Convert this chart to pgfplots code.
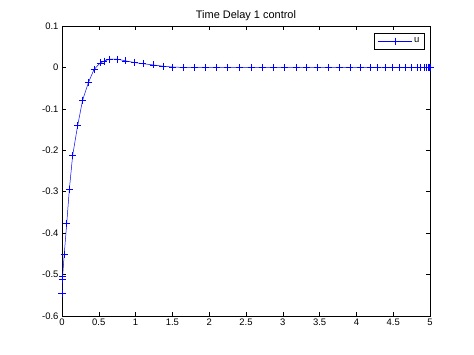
\documentclass[border=0pt]{standalone}
\usepackage{pgfplots}
\pgfplotsset{compat=1.18}
\usepackage{fontspec}
\setmainfont{Liberation Sans}
\definecolor{mblue}{rgb}{0,0,1}
\begin{document}
\begin{tikzpicture}
\begin{axis}[
  scale only axis,
  width=368bp, height=290bp,
  xmin=0, xmax=5, ymin=-0.6, ymax=0.1,
  xtick={0,0.5,...,5},
  ytick={-0.6,-0.5,...,0.1},
  tick align=inside,
  major tick length=4bp,
  tick style={black, line width=0.5pt},
  axis line style={black, line width=0.5pt},
  /pgf/number format/assume math mode=true,
  /pgf/number format/fixed,
  /pgf/number format/precision=1,
  xticklabel style={font=\fontsize{9.5}{11}\selectfont, yshift=1bp},
  yticklabel style={font=\fontsize{9.5}{11}\selectfont},
  title={Time Delay 1 control},
  title style={font=\fontsize{11}{13}\selectfont, yshift=-4bp},
  legend style={at={(0.985,0.975)}, anchor=north east, draw=black, font=\fontsize{9.5}{11}\selectfont, inner xsep=3bp, inner ysep=2.5bp, legend cell align=left},
  legend image code/.code={\draw[#1, draw=mblue] (0bp,0bp) -- (34bp,0bp); \draw[#1, draw=mblue, mark repeat=2, mark phase=2] plot coordinates {(0bp,0bp) (17bp,0bp) (34bp,0bp)};},
]
\addplot[draw=mblue, color=mblue, line width=0.5pt, mark=+, mark size=3.5bp, mark options={draw=mblue, solid, line width=0.5pt}] coordinates {
(0,-0.546) (0.003,-0.512) (0.008,-0.505) (0.03,-0.452) (0.064,-0.377) (0.10,-0.294)
(0.145,-0.212) (0.213,-0.140) (0.28,-0.079) (0.36,-0.036) (0.435,-0.005) (0.52,0.011)
(0.57,0.015) (0.64,0.020) (0.75,0.020) (0.86,0.016) (0.98,0.012) (1.10,0.009)
(1.24,0.006) (1.37,0.003) (1.50,0.001) (1.65,0) (1.80,0) (1.95,0) (2.10,0) (2.25,0)
(2.41,0) (2.57,0) (2.72,0) (2.87,0) (3.02,0) (3.18,0) (3.32,0) (3.47,0) (3.62,0)
(3.77,0) (3.91,0) (4.05,0) (4.19,0) (4.28,0) (4.39,0) (4.49,0) (4.58,0) (4.67,0)
(4.75,0) (4.82,0) (4.87,0) (4.92,0) (4.95,0) (4.97,0) (4.985,0) (4.995,0) (5,0)
};
\addlegendentry{u}
\end{axis}
\path ([xshift=-62bp,yshift=-39bp]current axis.south west) rectangle ([xshift=44bp,yshift=26bp]current axis.north east);
\end{tikzpicture}
\end{document}
